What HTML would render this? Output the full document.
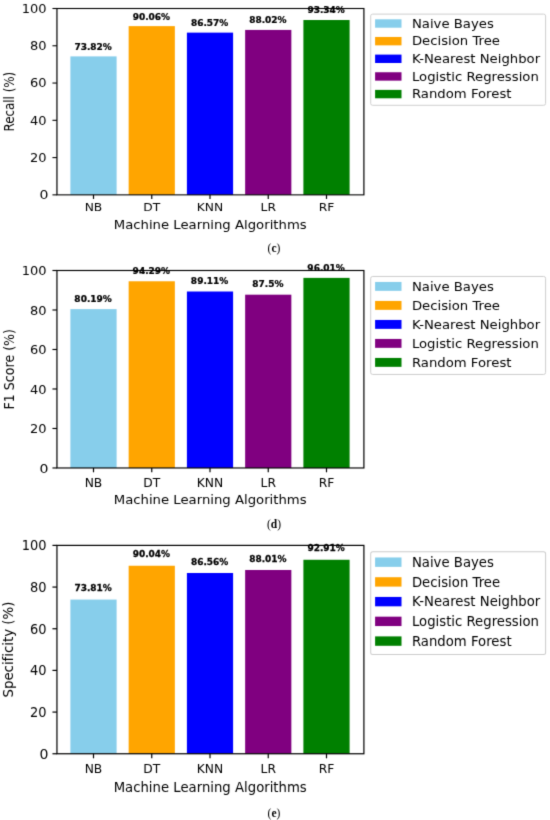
<!DOCTYPE html>
<html><head><meta charset="utf-8"><title>ML Algorithms Metrics</title>
<style>
html,body{margin:0;padding:0;background:#fff;}
body{width:550px;height:820px;overflow:hidden;}
svg{display:block;}
text{font-family:"DejaVu Sans","Liberation Sans",sans-serif;fill:#000;font-variant-ligatures:none;font-feature-settings:"liga" 0,"clig" 0;}
.v{font-size:9.0px;font-weight:bold;text-anchor:middle;stroke:#000;stroke-width:0.25px;}
.yt{font-size:13.0px;text-anchor:end;}
.xt{font-size:12.3px;text-anchor:middle;}
.xl{font-size:13.25px;text-anchor:middle;}
.yl{font-size:13.15px;text-anchor:middle;}
.lg{font-size:13.25px;}
.cap{font-family:"Liberation Serif",serif;font-weight:bold;font-size:11.5px;text-anchor:middle;}
</style></head>
<body>
<svg width="550" height="820" viewBox="0 0 550 820">
<defs><filter id="soft" filterUnits="userSpaceOnUse" x="0" y="0" width="550" height="820" color-interpolation-filters="sRGB"><feConvolveMatrix order="3" kernelMatrix="1 6 1 6 36 6 1 6 1" divisor="64" edgeMode="duplicate"/></filter></defs>
<rect width="550" height="820" fill="#fff"/>
<g filter="url(#soft)">
<rect width="550" height="820" fill="#fff"/>
<g transform="translate(0 8.5) scale(1 0.906)">
<rect x="70.4" y="52.86" width="46.2" height="152.84" fill="#87ceeb"/>
<text class="v" transform="translate(93.1 45.56) scale(1 1.0)">73.82%</text>
<rect x="128.65" y="19.45" width="46.2" height="186.25" fill="#ffa500"/>
<text class="v" transform="translate(151.35 12.15) scale(1 1.0)">90.06%</text>
<rect x="186.9" y="26.63" width="46.2" height="179.07" fill="#0000ff"/>
<text class="v" transform="translate(209.6 19.33) scale(1 1.0)">86.57%</text>
<rect x="245.15" y="23.65" width="46.2" height="182.05" fill="#800080"/>
<text class="v" transform="translate(267.85 16.35) scale(1 1.0)">88.02%</text>
<rect x="303.4" y="12.71" width="46.2" height="192.99" fill="#008000"/>
<text class="v" transform="translate(326.1 5.41) scale(1 1.0)">93.34%</text>
<rect x="56.95" y="0" width="306.95" height="205.7" fill="none" stroke="#000" stroke-width="1.2"/>
<line x1="52.45" y1="205.7" x2="56.95" y2="205.7" stroke="#000" stroke-width="1.2"/>
<text class="yt" transform="translate(48.4 210.51) scale(1.08 1)">0</text>
<line x1="52.45" y1="164.56" x2="56.95" y2="164.56" stroke="#000" stroke-width="1.2"/>
<text class="yt" x="46.6" y="169.37">20</text>
<line x1="52.45" y1="123.42" x2="56.95" y2="123.42" stroke="#000" stroke-width="1.2"/>
<text class="yt" x="46.6" y="128.23">40</text>
<line x1="52.45" y1="82.28" x2="56.95" y2="82.28" stroke="#000" stroke-width="1.2"/>
<text class="yt" x="46.6" y="87.09">60</text>
<line x1="52.45" y1="41.14" x2="56.95" y2="41.14" stroke="#000" stroke-width="1.2"/>
<text class="yt" x="46.6" y="45.95">80</text>
<line x1="52.45" y1="0" x2="56.95" y2="0" stroke="#000" stroke-width="1.2"/>
<text class="yt" x="46.6" y="4.81">100</text>
<line x1="93.5" y1="205.7" x2="93.5" y2="210.2" stroke="#000" stroke-width="1.2"/>
<text class="xt" x="93.5" y="223.6">NB</text>
<line x1="151.75" y1="205.7" x2="151.75" y2="210.2" stroke="#000" stroke-width="1.2"/>
<text class="xt" x="151.75" y="223.6">DT</text>
<line x1="210" y1="205.7" x2="210" y2="210.2" stroke="#000" stroke-width="1.2"/>
<text class="xt" x="210" y="223.6">KNN</text>
<line x1="268.25" y1="205.7" x2="268.25" y2="210.2" stroke="#000" stroke-width="1.2"/>
<text class="xt" x="268.25" y="223.6">LR</text>
<line x1="326.5" y1="205.7" x2="326.5" y2="210.2" stroke="#000" stroke-width="1.2"/>
<text class="xt" x="326.5" y="223.6">RF</text>
<text class="xl" x="210.2" y="243.5">Machine Learning Algorithms</text>
<text class="yl" transform="translate(14 102.85) rotate(-90) scale(1 1.09)">Recall (%)</text>
<rect x="370.7" y="6.2" width="174.9" height="100.64" rx="2" fill="#fff" stroke="#cccccc" stroke-width="1"/>
<rect x="375.1" y="11.92" width="26.4" height="9.27" fill="#87ceeb"/>
<text class="lg" x="411.9" y="21.16">Naive Bayes</text>
<rect x="375.1" y="31.41" width="26.4" height="9.27" fill="#ffa500"/>
<text class="lg" x="411.9" y="40.64">Decision Tree</text>
<rect x="375.1" y="50.88" width="26.4" height="9.27" fill="#0000ff"/>
<text class="lg" x="411.9" y="60.12">K-Nearest Neighbor</text>
<rect x="375.1" y="70.36" width="26.4" height="9.27" fill="#800080"/>
<text class="lg" x="411.9" y="79.6">Logistic Regression</text>
<rect x="375.1" y="89.84" width="26.4" height="9.27" fill="#008000"/>
<text class="lg" x="411.9" y="99.08">Random Forest</text>
</g>
<text class="cap" x="274" y="251.5"><tspan font-weight="normal">(</tspan>c<tspan font-weight="normal">)</tspan></text>
<g transform="translate(0 270.5) scale(1 0.96)">
<rect x="70.4" y="40.23" width="46.2" height="165.47" fill="#87ceeb"/>
<text class="v" transform="translate(93.1 32.62) scale(1 1.0)">80.19%</text>
<rect x="128.65" y="11.22" width="46.2" height="194.48" fill="#ffa500"/>
<text class="v" transform="translate(151.35 3.61) scale(1 1.0)">94.29%</text>
<rect x="186.9" y="21.88" width="46.2" height="183.82" fill="#0000ff"/>
<text class="v" transform="translate(209.6 14.27) scale(1 1.0)">89.11%</text>
<rect x="245.15" y="25.19" width="46.2" height="180.51" fill="#800080"/>
<text class="v" transform="translate(267.85 17.58) scale(1 1.0)">87.5%</text>
<rect x="303.4" y="7.69" width="46.2" height="198.01" fill="#008000"/>
<text class="v" transform="translate(326.1 0.07) scale(1 1.0)">96.01%</text>
<rect x="56.95" y="0" width="306.95" height="205.7" fill="none" stroke="#000" stroke-width="1.2"/>
<line x1="52.45" y1="205.7" x2="56.95" y2="205.7" stroke="#000" stroke-width="1.2"/>
<text class="yt" transform="translate(48.4 210.51) scale(1.08 1)">0</text>
<line x1="52.45" y1="164.56" x2="56.95" y2="164.56" stroke="#000" stroke-width="1.2"/>
<text class="yt" x="46.6" y="169.37">20</text>
<line x1="52.45" y1="123.42" x2="56.95" y2="123.42" stroke="#000" stroke-width="1.2"/>
<text class="yt" x="46.6" y="128.23">40</text>
<line x1="52.45" y1="82.28" x2="56.95" y2="82.28" stroke="#000" stroke-width="1.2"/>
<text class="yt" x="46.6" y="87.09">60</text>
<line x1="52.45" y1="41.14" x2="56.95" y2="41.14" stroke="#000" stroke-width="1.2"/>
<text class="yt" x="46.6" y="45.95">80</text>
<line x1="52.45" y1="0" x2="56.95" y2="0" stroke="#000" stroke-width="1.2"/>
<text class="yt" x="46.6" y="4.81">100</text>
<line x1="93.5" y1="205.7" x2="93.5" y2="210.2" stroke="#000" stroke-width="1.2"/>
<text class="xt" x="93.5" y="225.47">NB</text>
<line x1="151.75" y1="205.7" x2="151.75" y2="210.2" stroke="#000" stroke-width="1.2"/>
<text class="xt" x="151.75" y="225.47">DT</text>
<line x1="210" y1="205.7" x2="210" y2="210.2" stroke="#000" stroke-width="1.2"/>
<text class="xt" x="210" y="225.47">KNN</text>
<line x1="268.25" y1="205.7" x2="268.25" y2="210.2" stroke="#000" stroke-width="1.2"/>
<text class="xt" x="268.25" y="225.47">LR</text>
<line x1="326.5" y1="205.7" x2="326.5" y2="210.2" stroke="#000" stroke-width="1.2"/>
<text class="xt" x="326.5" y="225.47">RF</text>
<text class="xl" x="210.2" y="243.5">Machine Learning Algorithms</text>
<text class="yl" transform="translate(13.9 102.85) rotate(-90) scale(1 1.09)">F1 Score (%)</text>
<rect x="370.7" y="6.2" width="174.9" height="102.08" rx="2" fill="#fff" stroke="#cccccc" stroke-width="1"/>
<rect x="375.1" y="11.92" width="26.4" height="9.27" fill="#87ceeb"/>
<text class="lg" x="411.9" y="21.16">Naive Bayes</text>
<rect x="375.1" y="31.71" width="26.4" height="9.27" fill="#ffa500"/>
<text class="lg" x="411.9" y="40.95">Decision Tree</text>
<rect x="375.1" y="51.51" width="26.4" height="9.27" fill="#0000ff"/>
<text class="lg" x="411.9" y="60.74">K-Nearest Neighbor</text>
<rect x="375.1" y="71.29" width="26.4" height="9.27" fill="#800080"/>
<text class="lg" x="411.9" y="80.53">Logistic Regression</text>
<rect x="375.1" y="91.08" width="26.4" height="9.27" fill="#008000"/>
<text class="lg" x="411.9" y="100.32">Random Forest</text>
</g>
<text class="cap" x="274" y="528"><tspan font-weight="normal">(</tspan>d<tspan font-weight="normal">)</tspan></text>
<g transform="translate(0 545.4) scale(1 1.0129)">
<rect x="70.4" y="53.48" width="46.2" height="152.22" fill="#87ceeb"/>
<text class="v" transform="translate(93.1 45.19) scale(1 1.0)">73.81%</text>
<rect x="128.65" y="20.09" width="46.2" height="185.61" fill="#ffa500"/>
<text class="v" transform="translate(151.35 11.81) scale(1 1.0)">90.04%</text>
<rect x="186.9" y="27.25" width="46.2" height="178.45" fill="#0000ff"/>
<text class="v" transform="translate(209.6 18.96) scale(1 1.0)">86.56%</text>
<rect x="245.15" y="24.27" width="46.2" height="181.43" fill="#800080"/>
<text class="v" transform="translate(267.85 15.98) scale(1 1.0)">88.01%</text>
<rect x="303.4" y="14.19" width="46.2" height="191.51" fill="#008000"/>
<text class="v" transform="translate(326.1 5.9) scale(1 1.0)">92.91%</text>
<rect x="56.95" y="0" width="306.95" height="205.7" fill="none" stroke="#000" stroke-width="1.2"/>
<line x1="52.45" y1="205.7" x2="56.95" y2="205.7" stroke="#000" stroke-width="1.2"/>
<text class="yt" transform="translate(48.4 210.51) scale(1.08 1)">0</text>
<line x1="52.45" y1="164.56" x2="56.95" y2="164.56" stroke="#000" stroke-width="1.2"/>
<text class="yt" x="46.6" y="169.37">20</text>
<line x1="52.45" y1="123.42" x2="56.95" y2="123.42" stroke="#000" stroke-width="1.2"/>
<text class="yt" x="46.6" y="128.23">40</text>
<line x1="52.45" y1="82.28" x2="56.95" y2="82.28" stroke="#000" stroke-width="1.2"/>
<text class="yt" x="46.6" y="87.09">60</text>
<line x1="52.45" y1="41.14" x2="56.95" y2="41.14" stroke="#000" stroke-width="1.2"/>
<text class="yt" x="46.6" y="45.95">80</text>
<line x1="52.45" y1="0" x2="56.95" y2="0" stroke="#000" stroke-width="1.2"/>
<text class="yt" x="46.6" y="4.81">100</text>
<line x1="93.5" y1="205.7" x2="93.5" y2="210.2" stroke="#000" stroke-width="1.2"/>
<text class="xt" x="93.5" y="224.39">NB</text>
<line x1="151.75" y1="205.7" x2="151.75" y2="210.2" stroke="#000" stroke-width="1.2"/>
<text class="xt" x="151.75" y="224.39">DT</text>
<line x1="210" y1="205.7" x2="210" y2="210.2" stroke="#000" stroke-width="1.2"/>
<text class="xt" x="210" y="224.39">KNN</text>
<line x1="268.25" y1="205.7" x2="268.25" y2="210.2" stroke="#000" stroke-width="1.2"/>
<text class="xt" x="268.25" y="224.39">LR</text>
<line x1="326.5" y1="205.7" x2="326.5" y2="210.2" stroke="#000" stroke-width="1.2"/>
<text class="xt" x="326.5" y="224.39">RF</text>
<text class="xl" x="210.2" y="243.5">Machine Learning Algorithms</text>
<text class="yl" transform="translate(13.4 102.85) rotate(-90) scale(1 1.09)">Specificity (%)</text>
<rect x="370.7" y="6.2" width="174.9" height="101.48" rx="2" fill="#fff" stroke="#cccccc" stroke-width="1"/>
<rect x="375.1" y="11.92" width="26.4" height="9.27" fill="#87ceeb"/>
<text class="lg" x="411.9" y="21.16">Naive Bayes</text>
<rect x="375.1" y="31.41" width="26.4" height="9.27" fill="#ffa500"/>
<text class="lg" x="411.9" y="40.64">Decision Tree</text>
<rect x="375.1" y="50.88" width="26.4" height="9.27" fill="#0000ff"/>
<text class="lg" x="411.9" y="60.12">K-Nearest Neighbor</text>
<rect x="375.1" y="70.36" width="26.4" height="9.27" fill="#800080"/>
<text class="lg" x="411.9" y="79.6">Logistic Regression</text>
<rect x="375.1" y="89.84" width="26.4" height="9.27" fill="#008000"/>
<text class="lg" x="411.9" y="99.08">Random Forest</text>
</g>
<text class="cap" x="274" y="816.5"><tspan font-weight="normal">(</tspan>e<tspan font-weight="normal">)</tspan></text>
</g>
</svg>
</body></html>
